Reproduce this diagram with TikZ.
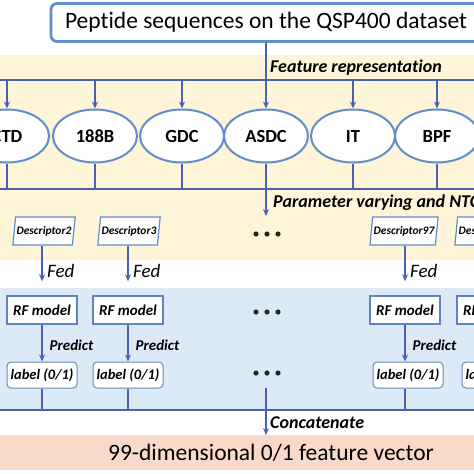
\documentclass[tikz,border=0pt]{standalone}
\usepackage{fontspec}
\setmainfont{Carlito}[Ligatures=NoCommon]
\usetikzlibrary{shapes.geometric,arrows.meta}
\definecolor{lc}{RGB}{72,98,176}
\definecolor{oc}{RGB}{98,141,203}
\definecolor{yband}{RGB}{254,245,217}
\definecolor{bband}{RGB}{220,233,246}
\definecolor{sband}{RGB}{249,217,202}
\begin{document}
\begin{tikzpicture}[x=1pt,y=-1pt,
 conn/.style={draw=lc,line width=1.4pt},
 arr/.style={conn,-{Stealth[length=7pt,width=6pt]}},
 band/.style={draw=none,anchor=north west,inner sep=0,minimum width=474pt},
 topbox/.style={draw=oc,line width=2.8pt,rounded corners=6pt,fill=white,minimum width=430pt,minimum height=38pt,inner sep=0,font=\fontsize{23.5}{28}\selectfont},
 feat/.style={ellipse,draw=oc,line width=2pt,fill=white,minimum width=84pt,minimum height=53pt,inner sep=0,font=\bfseries\fontsize{18.5}{21}\selectfont},
 lbl/.style={font=\bfseries\itshape\fontsize{18}{21}\selectfont,anchor=west,inner sep=0},
 desc/.style={trapezium,trapezium left angle=77,trapezium right angle=103,trapezium stretches body,draw=oc,line width=1.2pt,fill=white,minimum width=58pt,minimum height=28pt,inner sep=1pt,font=\bfseries\itshape\fontsize{11.5}{13}\selectfont},
 rfbox/.style={draw=oc!80!lc,line width=1.6pt,fill=white,minimum width=70pt,minimum height=28pt,inner sep=0,font=\bfseries\itshape\fontsize{15}{18}\selectfont},
 labbox/.style={draw=oc!70!gray,line width=1pt,rounded corners=4pt,fill=white,minimum width=70pt,minimum height=26pt,inner sep=0,font=\bfseries\itshape\fontsize{14.5}{17}\selectfont},
 predlbl/.style={font=\bfseries\itshape\fontsize{15}{17}\selectfont,anchor=west,inner sep=0},
 fedlbl/.style={font=\itshape\fontsize{19}{21}\selectfont,anchor=west,inner sep=0},
]
\useasboundingbox (0,0) rectangle (474,474);
\clip (0,0) rectangle (474,474);
\fill[white] (0,0) rectangle (474,474);
% bands
\node[band,fill=yband,minimum height=205pt] (yb) at (0,55) {};
\node[band,fill=bband,minimum height=122pt] (bb) at (0,288) {};
\node[band,fill=sband,minimum height=35pt] (sb) at (0,435) {};
% bus coordinates
\coordinate (b1l) at (0,80); \coordinate (b1r) at (474,80);
\coordinate (b2l) at (0,189); \coordinate (b2r) at (474,189);
\coordinate (b3l) at (0,410); \coordinate (b3r) at (474,410);
% top box
\node[topbox] (top) at (266,22.5) {Peptide sequences on the QSP400 dataset};
\draw[conn] (b1l) -- (b1r);
\draw[conn] (top.south) -- (top.south |- b1l);
\node[lbl] (fr) at (270,68) {Feature representation};
% ellipses
\foreach \n/\x/\t in {e1/7/CTD, e2/95/188B, e3/182/GDC, e4/266/ASDC, e5/353/IT, e6/437/BPF} {
  \node[feat] (\n) at (\x,136) {\t};
  \draw[arr] (\n.north |- b1l) -- (\n.north);
  \draw[conn] (\n.south) -- (\n.south |- b2l);
}
\draw[conn] (b2l) -- (b2r);
\coordinate (pv) at (266,216);
\draw[arr] (e4.south |- b2l) -- (pv);
\node[lbl] (pvl) at (273,203) {Parameter varying and NTC};
% columns
\foreach \i/\cx/\dx/\lx/\dt in {1/42/44/42/Descriptor2, 2/128/129/128/Descriptor3, 3/405/404/408/Descriptor97, 4/492/489/497/Descriptor98} {
  \node[desc] (d\i) at (\dx,231) {\dt};
  \node[rfbox] (r\i) at (\cx,310) {RF model};
  \node[labbox] (l\i) at (\lx,375) {label (0/1)};
  \draw[arr,shorten >=14pt] (d\i.south -| r\i.north) -- (r\i.north);
  \node[fedlbl] (f\i) at ([xshift=5pt,yshift=24pt]r\i.north) {Fed};
  \draw[arr] (r\i.south) -- (r\i.south |- l\i.north)
     node[predlbl,pos=0.55,xshift=7pt] (p\i) {Predict};
  \draw[conn] (l\i.south -| r\i.south) -- (r\i.south |- b3l);
}
\draw[conn] (b3l) -- (b3r);
% dots
\foreach \n/\y in {k1/234,k2/312,k3/373} {
  \coordinate (\n) at (267,\y);
  \fill[black!85] ([xshift=-11pt]\n) circle (2.6pt) (\n) circle (2.6pt) ([xshift=11pt]\n) circle (2.6pt);
}
\coordinate (cs) at (266,388);
\draw[arr] (cs) -- (cs |- sb.north);
\node[lbl] (cc) at (270,423) {Concatenate};
\node[font=\fontsize{23.5}{28}\selectfont,inner sep=0] (vec) at (271,453) {99-dimensional 0/1 feature vector};
\end{tikzpicture}
\end{document}
